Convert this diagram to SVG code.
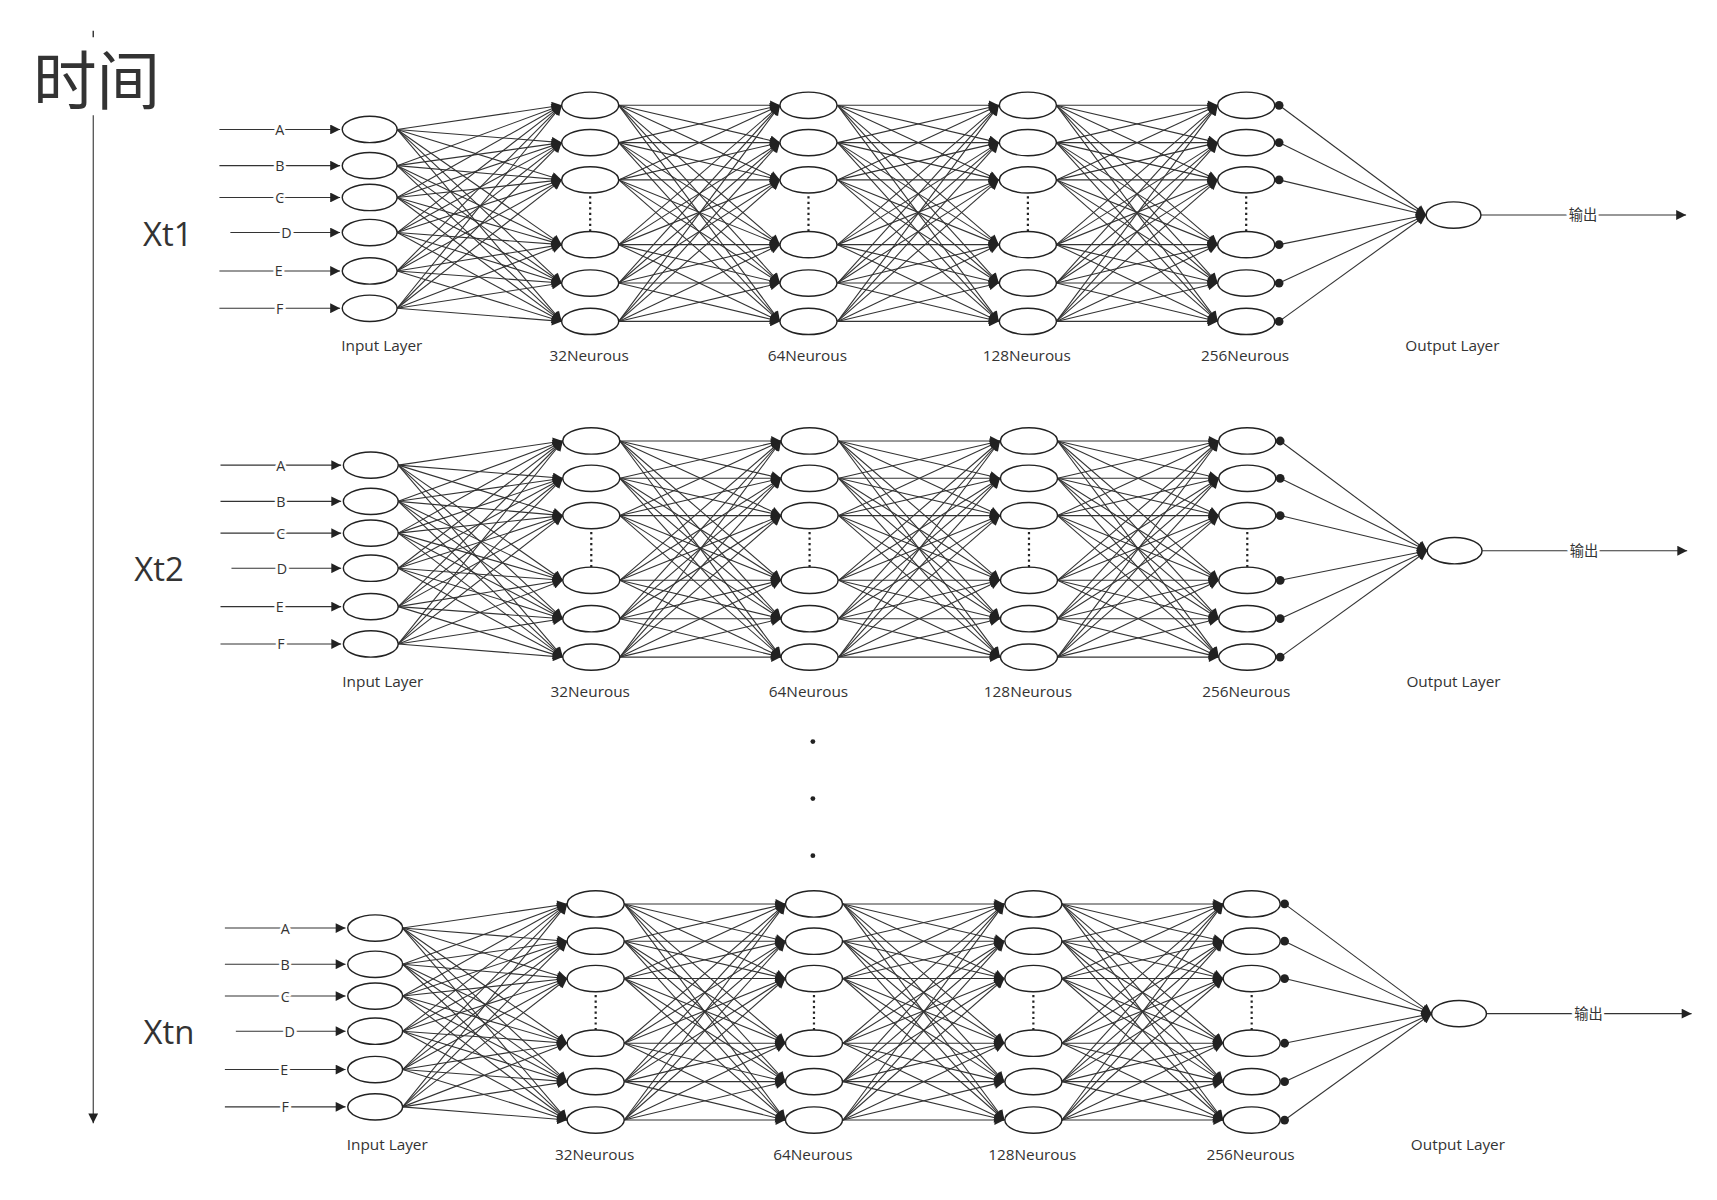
<svg xmlns="http://www.w3.org/2000/svg" xmlns:xlink="http://www.w3.org/1999/xlink" width="1717" height="1200" viewBox="0 0 1717 1200">
<style>
.e{stroke:#333;stroke-width:1;fill:none;marker-end:url(#ar)}
.n{fill:#fff;stroke:#222;stroke-width:1.3}
.t{font-family:"Open Sans","Noto Sans CJK SC",sans-serif;fill:#333}
.s{font-size:14px;text-anchor:middle}
.lt{font-size:13px;stroke:#fff;stroke-width:5px;paint-order:stroke}
.big{font-size:30px}
.dot{fill:#222}
.vd{stroke:#222;stroke-width:2;stroke-dasharray:2 3}
</style>
<defs>
<marker id="ar" viewBox="0 0 10 10" refX="10" refY="5" markerWidth="10" markerHeight="9" markerUnits="userSpaceOnUse" orient="auto"><path d="M0 0L10 5L0 10z" fill="#222"/></marker>
<g id="edges">
<line x1="200" y1="118" x2="310" y2="118" class="e"/><line x1="200" y1="151" x2="310" y2="151" class="e"/><line x1="200" y1="180" x2="310" y2="180" class="e"/><line x1="210" y1="212" x2="310" y2="212" class="e"/><line x1="200" y1="247" x2="310" y2="247" class="e"/><line x1="200" y1="281" x2="310" y2="281" class="e"/>
<line x1="362" y1="118" x2="512" y2="96" class="e"/><line x1="362" y1="118" x2="512" y2="130" class="e"/><line x1="362" y1="118" x2="512" y2="164" class="e"/><line x1="362" y1="118" x2="512" y2="223" class="e"/><line x1="362" y1="118" x2="512" y2="258" class="e"/><line x1="362" y1="118" x2="512" y2="293" class="e"/>
<line x1="362" y1="151" x2="512" y2="96" class="e"/><line x1="362" y1="151" x2="512" y2="130" class="e"/><line x1="362" y1="151" x2="512" y2="164" class="e"/><line x1="362" y1="151" x2="512" y2="223" class="e"/><line x1="362" y1="151" x2="512" y2="258" class="e"/><line x1="362" y1="151" x2="512" y2="293" class="e"/>
<line x1="362" y1="180" x2="512" y2="96" class="e"/><line x1="362" y1="180" x2="512" y2="130" class="e"/><line x1="362" y1="180" x2="512" y2="164" class="e"/><line x1="362" y1="180" x2="512" y2="223" class="e"/><line x1="362" y1="180" x2="512" y2="258" class="e"/><line x1="362" y1="180" x2="512" y2="293" class="e"/>
<line x1="362" y1="212" x2="512" y2="96" class="e"/><line x1="362" y1="212" x2="512" y2="130" class="e"/><line x1="362" y1="212" x2="512" y2="164" class="e"/><line x1="362" y1="212" x2="512" y2="223" class="e"/><line x1="362" y1="212" x2="512" y2="258" class="e"/><line x1="362" y1="212" x2="512" y2="293" class="e"/>
<line x1="362" y1="247" x2="512" y2="96" class="e"/><line x1="362" y1="247" x2="512" y2="130" class="e"/><line x1="362" y1="247" x2="512" y2="164" class="e"/><line x1="362" y1="247" x2="512" y2="223" class="e"/><line x1="362" y1="247" x2="512" y2="258" class="e"/><line x1="362" y1="247" x2="512" y2="293" class="e"/>
<line x1="362" y1="281" x2="512" y2="96" class="e"/><line x1="362" y1="281" x2="512" y2="130" class="e"/><line x1="362" y1="281" x2="512" y2="164" class="e"/><line x1="362" y1="281" x2="512" y2="223" class="e"/><line x1="362" y1="281" x2="512" y2="258" class="e"/><line x1="362" y1="281" x2="512" y2="293" class="e"/>
<g id="hh">
<line x1="564" y1="96" x2="711" y2="96" class="e"/><line x1="564" y1="96" x2="711" y2="130" class="e"/><line x1="564" y1="96" x2="711" y2="164" class="e"/><line x1="564" y1="96" x2="711" y2="223" class="e"/><line x1="564" y1="96" x2="711" y2="258" class="e"/><line x1="564" y1="96" x2="711" y2="293" class="e"/>
<line x1="564" y1="130" x2="711" y2="96" class="e"/><line x1="564" y1="130" x2="711" y2="130" class="e"/><line x1="564" y1="130" x2="711" y2="164" class="e"/><line x1="564" y1="130" x2="711" y2="223" class="e"/><line x1="564" y1="130" x2="711" y2="258" class="e"/><line x1="564" y1="130" x2="711" y2="293" class="e"/>
<line x1="564" y1="164" x2="711" y2="96" class="e"/><line x1="564" y1="164" x2="711" y2="130" class="e"/><line x1="564" y1="164" x2="711" y2="164" class="e"/><line x1="564" y1="164" x2="711" y2="223" class="e"/><line x1="564" y1="164" x2="711" y2="258" class="e"/><line x1="564" y1="164" x2="711" y2="293" class="e"/>
<line x1="564" y1="223" x2="711" y2="96" class="e"/><line x1="564" y1="223" x2="711" y2="130" class="e"/><line x1="564" y1="223" x2="711" y2="164" class="e"/><line x1="564" y1="223" x2="711" y2="223" class="e"/><line x1="564" y1="223" x2="711" y2="258" class="e"/><line x1="564" y1="223" x2="711" y2="293" class="e"/>
<line x1="564" y1="258" x2="711" y2="96" class="e"/><line x1="564" y1="258" x2="711" y2="130" class="e"/><line x1="564" y1="258" x2="711" y2="164" class="e"/><line x1="564" y1="258" x2="711" y2="223" class="e"/><line x1="564" y1="258" x2="711" y2="258" class="e"/><line x1="564" y1="258" x2="711" y2="293" class="e"/>
<line x1="564" y1="293" x2="711" y2="96" class="e"/><line x1="564" y1="293" x2="711" y2="130" class="e"/><line x1="564" y1="293" x2="711" y2="164" class="e"/><line x1="564" y1="293" x2="711" y2="223" class="e"/><line x1="564" y1="293" x2="711" y2="258" class="e"/><line x1="564" y1="293" x2="711" y2="293" class="e"/>
</g>
<use xlink:href="#hh" transform="translate(199.5,0)"/>
<use xlink:href="#hh" transform="translate(399,0)"/>
<line x1="1166" y1="96" x2="1300" y2="196" class="e"/><line x1="1166" y1="130" x2="1300" y2="196" class="e"/><line x1="1166" y1="164" x2="1300" y2="196" class="e"/><line x1="1166" y1="223" x2="1300" y2="196" class="e"/><line x1="1166" y1="258" x2="1300" y2="196" class="e"/><line x1="1166" y1="293" x2="1300" y2="196" class="e"/>
<line x1="1350" y1="196" x2="1537" y2="196" class="e"/>
</g>
<g id="layerNodes">
<ellipse cx="0" cy="96" rx="26" ry="12" class="n"/><ellipse cx="0" cy="130" rx="26" ry="12" class="n"/><ellipse cx="0" cy="164" rx="26" ry="12" class="n"/><ellipse cx="0" cy="223" rx="26" ry="12" class="n"/><ellipse cx="0" cy="258" rx="26" ry="12" class="n"/><ellipse cx="0" cy="293" rx="26" ry="12" class="n"/>
<line x1="0" y1="179" x2="0" y2="211" class="vd"/>
</g>
</defs>
<rect width="1717" height="1200" fill="#fff"/>
<g transform="scale(1.097)">
<g id="connectors">
<use xlink:href="#edges"/>
<use xlink:href="#edges" transform="translate(1,306)"/>
<use xlink:href="#edges" transform="translate(5,728)"/>
<line x1="85" y1="28" x2="85" y2="34" stroke="#333" stroke-width="1.3"/>
<line x1="85" y1="105" x2="85" y2="1024" class="e" stroke-width="1.6"/>
</g>
<text x="30" y="95" class="t" font-size="58">时间</text>
<g id="panel1">
<text x="153" y="224" class="t s big">Xt1</text>
<g class="t s lt"><text x="255" y="123">A</text><text x="255" y="156">B</text><text x="255" y="185">C</text><text x="261" y="217">D</text><text x="254" y="252">E</text><text x="255" y="286">F</text></g>
<g id="p1-input"><ellipse cx="337" cy="118" rx="25" ry="12" class="n"/><ellipse cx="337" cy="151" rx="25" ry="12" class="n"/><ellipse cx="337" cy="180" rx="25" ry="12" class="n"/><ellipse cx="337" cy="212" rx="25" ry="12" class="n"/><ellipse cx="337" cy="247" rx="25" ry="12" class="n"/><ellipse cx="337" cy="281" rx="25" ry="12" class="n"/></g>
<g id="p1-32"><use xlink:href="#layerNodes" x="538"/></g>
<g id="p1-64"><use xlink:href="#layerNodes" x="737"/></g>
<g id="p1-128"><use xlink:href="#layerNodes" x="937"/></g>
<g id="p1-256"><use xlink:href="#layerNodes" x="1136"/><circle cx="1166" cy="96" r="4" class="dot"/><circle cx="1166" cy="130" r="4" class="dot"/><circle cx="1166" cy="164" r="4" class="dot"/><circle cx="1166" cy="223" r="4" class="dot"/><circle cx="1166" cy="258" r="4" class="dot"/><circle cx="1166" cy="293" r="4" class="dot"/></g>
<g id="p1-out"><ellipse cx="1325" cy="196" rx="25" ry="12" class="n"/></g>
<text x="1443" y="201" class="t s lt">输出</text>
<g class="t s"><text x="348" y="320">Input Layer</text><text x="537" y="329">32Neurous</text><text x="736" y="329">64Neurous</text><text x="936" y="329">128Neurous</text><text x="1135" y="329">256Neurous</text><text x="1324" y="320">Output Layer</text></g>
</g>
<g id="panel2" transform="translate(1,306)">
<text x="144" y="224" class="t s big">Xt2</text>
<g class="t s lt"><text x="255" y="123">A</text><text x="255" y="156">B</text><text x="255" y="185">C</text><text x="256" y="217">D</text><text x="254" y="252">E</text><text x="255" y="286">F</text></g>
<g id="p2-input"><ellipse cx="337" cy="118" rx="25" ry="12" class="n"/><ellipse cx="337" cy="151" rx="25" ry="12" class="n"/><ellipse cx="337" cy="180" rx="25" ry="12" class="n"/><ellipse cx="337" cy="212" rx="25" ry="12" class="n"/><ellipse cx="337" cy="247" rx="25" ry="12" class="n"/><ellipse cx="337" cy="281" rx="25" ry="12" class="n"/></g>
<g id="p2-32"><use xlink:href="#layerNodes" x="538"/></g>
<g id="p2-64"><use xlink:href="#layerNodes" x="737"/></g>
<g id="p2-128"><use xlink:href="#layerNodes" x="937"/></g>
<g id="p2-256"><use xlink:href="#layerNodes" x="1136"/><circle cx="1166" cy="96" r="4" class="dot"/><circle cx="1166" cy="130" r="4" class="dot"/><circle cx="1166" cy="164" r="4" class="dot"/><circle cx="1166" cy="223" r="4" class="dot"/><circle cx="1166" cy="258" r="4" class="dot"/><circle cx="1166" cy="293" r="4" class="dot"/></g>
<g id="p2-out"><ellipse cx="1325" cy="196" rx="25" ry="12" class="n"/></g>
<text x="1443" y="201" class="t s lt">输出</text>
<g class="t s"><text x="348" y="320">Input Layer</text><text x="537" y="329">32Neurous</text><text x="736" y="329">64Neurous</text><text x="936" y="329">128Neurous</text><text x="1135" y="329">256Neurous</text><text x="1324" y="320">Output Layer</text></g>
</g>
<g id="ellipsis"><circle cx="741" cy="676" r="2.2" class="dot"/><circle cx="741" cy="728" r="2.2" class="dot"/><circle cx="741" cy="780" r="2.2" class="dot"/></g>
<g id="panel3" transform="translate(5,728)">
<text x="149" y="224" class="t s big">Xtn</text>
<g class="t s lt"><text x="255" y="123">A</text><text x="255" y="156">B</text><text x="255" y="185">C</text><text x="259" y="217">D</text><text x="254" y="252">E</text><text x="255" y="286">F</text></g>
<g id="p3-input"><ellipse cx="337" cy="118" rx="25" ry="12" class="n"/><ellipse cx="337" cy="151" rx="25" ry="12" class="n"/><ellipse cx="337" cy="180" rx="25" ry="12" class="n"/><ellipse cx="337" cy="212" rx="25" ry="12" class="n"/><ellipse cx="337" cy="247" rx="25" ry="12" class="n"/><ellipse cx="337" cy="281" rx="25" ry="12" class="n"/></g>
<g id="p3-32"><use xlink:href="#layerNodes" x="538"/></g>
<g id="p3-64"><use xlink:href="#layerNodes" x="737"/></g>
<g id="p3-128"><use xlink:href="#layerNodes" x="937"/></g>
<g id="p3-256"><use xlink:href="#layerNodes" x="1136"/><circle cx="1166" cy="96" r="4" class="dot"/><circle cx="1166" cy="130" r="4" class="dot"/><circle cx="1166" cy="164" r="4" class="dot"/><circle cx="1166" cy="223" r="4" class="dot"/><circle cx="1166" cy="258" r="4" class="dot"/><circle cx="1166" cy="293" r="4" class="dot"/></g>
<g id="p3-out"><ellipse cx="1325" cy="196" rx="25" ry="12" class="n"/></g>
<text x="1443" y="201" class="t s lt">输出</text>
<g class="t s"><text x="348" y="320">Input Layer</text><text x="537" y="329">32Neurous</text><text x="736" y="329">64Neurous</text><text x="936" y="329">128Neurous</text><text x="1135" y="329">256Neurous</text><text x="1324" y="320">Output Layer</text></g>
</g>
</g>
</svg>
